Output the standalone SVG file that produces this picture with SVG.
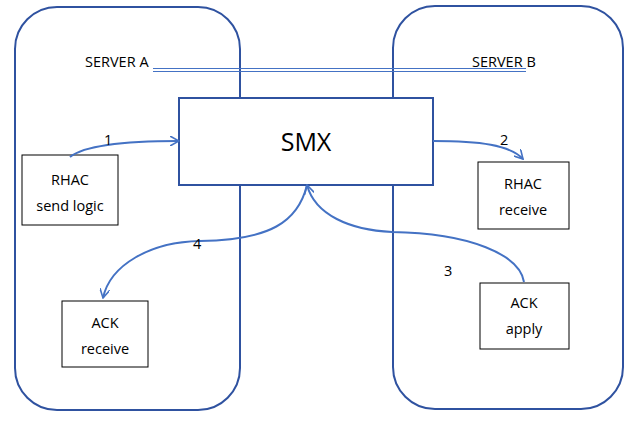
<svg xmlns="http://www.w3.org/2000/svg" width="637" height="421" viewBox="0 0 637 421">
<style>
.srv{fill:none;stroke:#2f52a0;stroke-width:2}
.box{fill:#fff;stroke:#000;stroke-width:1}
.t{font-family:"Open Sans","Liberation Sans",sans-serif;font-size:14.5px;fill:#000}
.c{fill:none;stroke:#4472c4;stroke-width:2}
</style>
<defs>
<marker id="a" viewBox="0 0 10 10" refX="9" refY="5" markerWidth="10" markerHeight="10" orient="auto" markerUnits="userSpaceOnUse">
<polyline points="0,0 9,5 0,10" fill="none" stroke="#4472c4" stroke-width="1.6"/>
</marker>
</defs>
<g id="serverA"><rect class="srv" x="15" y="7" width="225" height="403" rx="42"/></g>
<g id="serverB"><rect class="srv" x="393" y="6" width="230" height="403" rx="42"/></g>
<g id="labels">
<text class="t" x="85" y="67">SERVER A</text>
<text class="t" x="472" y="67">SERVER B</text>
<line x1="153" y1="68.5" x2="526" y2="68.5" stroke="#4472c4" stroke-width="1"/>
<line x1="153" y1="71.5" x2="526" y2="71.5" stroke="#4472c4" stroke-width="1"/>
</g>
<g id="smx"><rect x="179" y="98" width="254" height="87" fill="#fff" stroke="#2f52a0" stroke-width="2"/>
<text x="306" y="151" text-anchor="middle" font-family="Open Sans,Liberation Sans,sans-serif" font-size="25">SMX</text></g>
<g id="rhacSend"><rect class="box" x="22" y="155" width="96" height="70"/>
<text class="t" x="70" y="185" text-anchor="middle">RHAC</text><text class="t" x="70" y="211" text-anchor="middle">send logic</text></g>
<g id="rhacRecv"><rect class="box" x="478" y="162" width="91" height="67"/>
<text class="t" x="523" y="189" text-anchor="middle">RHAC</text><text class="t" x="523" y="215" text-anchor="middle">receive</text></g>
<g id="ackRecv"><rect class="box" x="62" y="301" width="86" height="66"/>
<text class="t" x="105" y="328" text-anchor="middle">ACK</text><text class="t" x="105" y="354" text-anchor="middle">receive</text></g>
<g id="ackApply"><rect class="box" x="480" y="283" width="89" height="66"/>
<text class="t" x="524" y="308" text-anchor="middle">ACK</text><text class="t" x="524" y="334" text-anchor="middle">apply</text></g>
<g id="connectors">
<path class="c" d="M70,157 C85,145 130,141 179,141" marker-end="url(#a)"/>
<path class="c" d="M433,141 C480,141 510,145 523,159" marker-end="url(#a)"/>
<path class="c" d="M307,185 C298,222 270,240 200,241 C150,242 110,265 103,298" marker-end="url(#a)"/>
<path class="c" d="M524,282 C520,255 470,233 392,232 C350,230 315,215 307,185" marker-end="url(#a)"/>
<text class="t" x="104" y="145">1</text>
<text class="t" x="500" y="145">2</text>
<text class="t" x="444" y="276">3</text>
<text class="t" x="193" y="249">4</text>
</g>
</svg>
